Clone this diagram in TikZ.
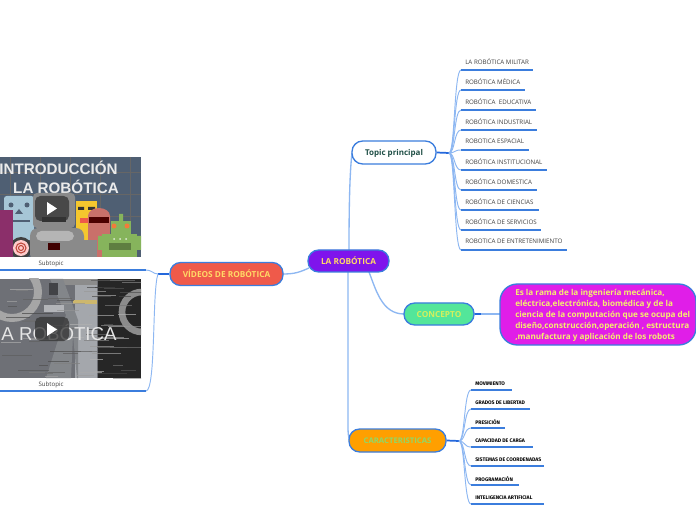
\documentclass[tikz,border=0pt]{standalone}
\usepackage{fontspec}
\setmainfont{Open Sans}
\newfontfamily\handfont{Fira Sans}
\newfontfamily\titlefont{Liberation Sans}
\definecolor{bord}{HTML}{3B7DDD}
\definecolor{lite}{HTML}{8DB7F2}
\definecolor{hub}{HTML}{2468DC}
\definecolor{purp}{HTML}{7F14EC}
\definecolor{redn}{HTML}{EF5A4A}
\definecolor{yel}{HTML}{FFD966}
\definecolor{gren}{HTML}{53E69A}
\definecolor{gtxt}{HTML}{D4F05C}
\definecolor{magn}{HTML}{E01EE8}
\definecolor{mtxt}{HTML}{F6EE6E}
\definecolor{oran}{HTML}{FF9F00}
\definecolor{otxt}{HTML}{8FD868}
\definecolor{dgreen}{HTML}{1F4F46}
\definecolor{slate}{HTML}{4F5F73}
\definecolor{paleb}{HTML}{A6C6D6}
\definecolor{rgrey}{HTML}{8A8A8A}
\definecolor{rlight}{HTML}{B5B5B5}
\definecolor{ryel}{HTML}{F5C72E}
\definecolor{rsal}{HTML}{C9706A}
\definecolor{rgrn}{HTML}{86B45C}
\definecolor{rpur}{HTML}{8B2F6A}
\definecolor{vdark}{HTML}{2E2E32}
\definecolor{vmid}{HTML}{6E7076}
\definecolor{vlight}{HTML}{A4A7AC}
\def\px{0.75pt}
\tikzset{
 x=0.75pt,y=-0.75pt,
 mainbox/.style={draw=bord,line width=1pt,rounded corners=8pt,inner sep=0pt,text height=5.6pt,text depth=0.4pt,font=\bfseries\fontsize{6.2}{7.5}\selectfont},
 branch/.style={draw=lite,line width=0.7pt},
 stem/.style={draw=hub,line width=1.3pt},
 under/.style={draw=bord,line width=1.2pt},
 item/.style={anchor=west,inner sep=0pt,text=black!75,font=\fontsize{4.65}{6}\selectfont},
 hand/.style={anchor=west,inner sep=0pt,text=black,font=\handfont\bfseries\fontsize{3.85}{6}\selectfont},
 captext/.style={inner sep=0pt,text=black!75,font=\fontsize{4.6}{6}\selectfont},
 playbox/.style={fill=black!80,fill opacity=.75,rounded corners=4pt}
}
\begin{document}
\begin{tikzpicture}
\useasboundingbox (0,0) rectangle (696,520);
\fill[white] (0,0) rectangle (696,520);
% ---------- thumbnail 1
\begin{scope}
\clip (0,157) rectangle (141,257);
\fill[slate] (0,157) rectangle (141,257);
\foreach \gx in {10,40,70,100,130} \draw[black!60,line width=.4pt] (\gx,157) -- (\gx,257);
\foreach \gy in {172,194,216,238} \draw[black!60,line width=.4pt] (0,\gy) -- (141,\gy);
\node[inner sep=0pt,text=white!92!black,font=\titlefont\bfseries\fontsize{11.4}{12}\selectfont] (t1) at (58.5,168) {INTRODUCCIÓN};
\node[inner sep=0pt,text=white!92!black,font=\titlefont\bfseries\fontsize{11.4}{12}\selectfont] (t2) at (66,187) {LA ROBÓTICA};
% pale robot
\fill[paleb,rounded corners=2pt] (4,196) rectangle (34,240);
\fill[slate] (11,205) circle (2.5) (27,205) circle (2.5);
\fill[slate] (19,209) -- (23,214) -- (15,214) -- cycle;
\fill[slate] (8,220) rectangle (30,222);
% yellow robot
\fill[ryel] (76,201) rectangle (97,257);
\fill[black!80] (78,207) rectangle (84,210) (88,207) rectangle (95,210);
\fill[redn] (80,218) rectangle (90,223);
% salmon robot
\fill[rsal] (88,216) arc (180:360:11 and 8) -- (110,257) -- (88,257) -- cycle;
\fill[black!70!red] (89,217) rectangle (109,223);
% green robot
\fill[rgrn] (111,221) rectangle (131,235);
\fill[rgrn] (102,234) rectangle (137,257);
\fill[rgrn!70!black] (109,243) rectangle (131,250);
\fill[redn!80!yellow] (114,226) circle (2.5) (127,226) circle (2.5);
\fill[rgrn] (119,214) rectangle (123,222) (98,236) rectangle (103,250) (136,236) rectangle (141,250);
\fill[white!75!rgrn] (114,239) circle (1) (120,239) circle (1) (126,239) circle (1);
% wheel
\fill[black!75] (21,248) circle (11);
\fill[white!80!red] (21,248) circle (8);
\draw[redn!80!black,line width=.8pt] (21,248) circle (5) (21,248) circle (2.5);
% grey robot
\fill[rgrey,rounded corners=3pt] (33,193) rectangle (75,228);
\fill[rgrey] (47,226) rectangle (62,232);
\fill[rgrey,rounded corners=6pt] (30,228) rectangle (84,262);
\fill[rlight,rounded corners=4pt] (36,231) rectangle (74,241);
\fill[black!75!red] (48,243) rectangle (60,250);
\fill[black!80] (42,217) rectangle (66,222);
\fill[rgrey] (83,240) rectangle (97,257);
% purple robot
\fill[rpur] (0,210) rectangle (13,257);
\fill[playbox] (35,196) rectangle (69,221);
\fill[white] (47,202) -- (57,208.5) -- (47,215) -- cycle;
\end{scope}
% ---------- thumbnail 2
\begin{scope}
\clip (0,279) rectangle (141,378);
\fill[vmid] (0,279) rectangle (98,378);
\fill[vlight] (75,279) rectangle (97,378);
\fill[black!85] (98,279) rectangle (141,378);
\draw[white!65!black,line width=6pt] (12,292) circle (26);
\draw[white!55!black,line width=5pt] (142,312) circle (20);
\fill[white!55!black] (55,279) rectangle (97,285);
\fill[ryel!50!vlight] (73,300) rectangle (97,304);
% figure
\fill[vlight!80!black] (50,279) -- (66,315) -- (46,378) -- (71,378) -- (73,335) -- (77,378) -- (78,378) -- (78,320) -- (63,279) -- cycle;
\fill[vlight!85!white] (44,305) rectangle (64,312);
\fill[vmid!60!black] (49,283) rectangle (58,295);
\pgfmathsetseed{11}
\foreach \i in {1,...,70}{
  \pgfmathsetmacro{\yy}{279+random(0,99)}
  \pgfmathsetmacro{\xa}{random(0,125)}
  \pgfmathsetmacro{\ww}{random(8,32)}
  \pgfmathsetmacro{\gg}{random(30,75)}
  \draw[black!\gg,line width=.6pt,opacity=.7] (\xa,\yy) -- ++(\ww,0);
}
\node[inner sep=0pt,text=white!90!black,font=\titlefont\fontsize{14}{15}\selectfont] (t3) at (59,332) {A ROBÓTICA};
\fill[playbox] (35,317) rectangle (69,341);
\fill[white] (47,323) -- (57,329.5) -- (47,336) -- cycle;
\end{scope}
% ---------- connector ends
\coordinate (rootup) at (349,250);
\coordinate (rootdn) at (348,272);
\coordinate (rootcon) at (369,272);
\coordinate (rootvid) at (309,268);
% ---------- trunk connectors
\draw[branch,line width=1pt] (rootup) .. controls (349,200) and (350,170) .. (352,153);
\draw[branch,line width=1pt] (rootdn) -- (348,425) .. controls (348,432) and (348,436) .. (350,441);
\draw[branch,line width=1pt] (rootcon) .. controls (376,290) and (382,314) .. (404,314);
\draw[branch,line width=1pt] (rootvid) .. controls (300,272) and (295,274) .. (283,274);
\draw[branch,line width=1pt] (474,314) -- (500,314);
% ---------- main nodes
\node[mainbox,fill=purp,text=yel,minimum width=81*\px,minimum height=22*\px] (root) at (348.5,261) {LA ROBÓTICA};
\node[mainbox,fill=redn,text=yel,minimum width=113*\px,minimum height=23*\px] (videos) at (226.5,274) {VÍDEOS DE ROBÓTICA};
\node[mainbox,fill=white,text=dgreen,minimum width=84*\px,minimum height=23*\px,text height=5pt,text depth=0.8pt,font=\bfseries\fontsize{6}{8}\selectfont] (topic) at (394,152.5) {Topic principal};
\node[mainbox,fill=gren,text=gtxt,minimum width=70*\px,minimum height=22*\px] (concepto) at (439,314) {CONCEPTO};
\node[mainbox,fill=oran,text=otxt,minimum width=97*\px,minimum height=23*\px,font=\bfseries\fontsize{5.8}{8}\selectfont] (carac) at (397.5,440.5) {CARACTERISTICAS};
\node[draw=bord,line width=1pt,rounded corners=13pt,fill=magn,minimum width=196*\px,minimum height=61*\px] (def) at (598,314.5) {};
\node[anchor=west,inner sep=0pt,text=mtxt,font=\bfseries\fontsize{6.1}{8.25}\selectfont,align=left] (deftext) at (515,315) {Es la rama de la ingeniería mecánica,\\eléctrica,electrónica, biomédica y de la\\ciencia de la computación que se ocupa del\\diseño,construcción,operación , estructura\\,manufactura y aplicación de los robots};
\draw[stem] (concepto.east) -- ++(6,0);
% ---------- Topic principal leaves
\coordinate (thub) at (449,153);
\draw[stem] (topic.east) -- (thub);
\foreach \i/\yy/\xe/\txt in {
 1/70/533/LA ROBÓTICA MILITAR,
 2/90/525/ROBÓTICA MÉDICA,
 3/110/536/ROBÓTICA\ \ EDUCATIVA,
 4/130/537/ROBÓTICA INDUSTRIAL,
 5/150/529/ROBOTICA ESPACIAL,
 6/170/547/ROBÓTICA INSTITUCIONAL,
 7/190/537/ROBÓTICA DOMESTICA,
 8/210/539/ROBÓTICA DE CIENCIAS,
 9/230/541/ROBÓTICA DE SERVICIOS,
 10/250/567/ROBOTICA DE ENTRETENIMIENTO}{
  \coordinate (ta\i) at (461,\yy);
  \coordinate (tb\i) at (\xe,\yy);
  \node[item] (tn\i) at (465,\yy-8.5) {\txt};
  \draw[branch] (thub) .. controls (455,153) and (454,\yy) .. (ta\i);
  \draw[under] (ta\i) -- (tb\i);
}
% ---------- Caracteristicas leaves
\coordinate (chub) at (459,441);
\draw[stem] (carac.east) -- (chub);
\foreach \i/\yy/\xe/\txt in {
 1/390/512/MOVIMIENTO,
 2/409/530/GRADOS DE LIBERTAD,
 3/428/505/PRESICIÓN,
 4/447/533/CAPACIDAD DE CARGA,
 5/466/544/SISTEMAS DE COORDENADAS,
 6/485/519/PROGRAMACIÓN,
 7/504/544/INTELIGENCIA ARTIFICIAL}{
  \coordinate (ca\i) at (471,\yy);
  \coordinate (cb\i) at (\xe,\yy);
  \node[hand] (cn\i) at (475,\yy-6.3) {\txt};
  \draw[branch] (chub) .. controls (465,441) and (464,\yy) .. (ca\i);
  \draw[under] (ca\i) -- (cb\i);
}
% ---------- Videos leaves
\coordinate (vhub) at (158,274);
\coordinate (v1a) at (0,270);
\coordinate (v1b) at (146,270);
\coordinate (v2a) at (0,391);
\coordinate (v2b) at (146,391);
\draw[stem] (videos.west) -- (vhub);
\draw[branch] (vhub) .. controls (153,274) and (152,270) .. (v1b);
\draw[branch] (vhub) .. controls (152,290) and (156,391) .. (v2b);
\draw[under] (v1a) -- (v1b);
\draw[under] (v2a) -- (v2b);
\node[captext] (s1) at (51,263.5) {Subtopic};
\node[captext] (s2) at (51,384.5) {Subtopic};
\end{tikzpicture}
\end{document}
